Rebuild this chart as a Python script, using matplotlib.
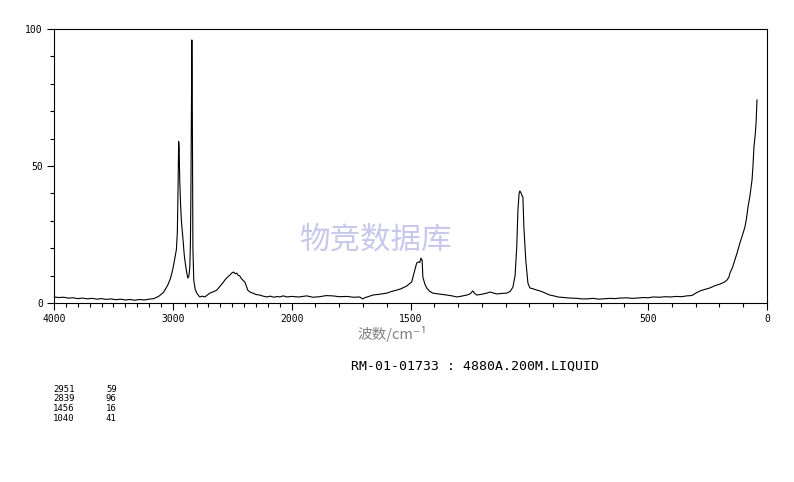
import numpy as np
import matplotlib

matplotlib.use("Agg")
import matplotlib.pyplot as plt
from matplotlib.ticker import FixedLocator, NullFormatter

# Raman spectrum (methanol, liquid)
wavenumber = [
    4000, 3960, 3920, 3880, 3840, 3800, 3760, 3720, 3680, 3640, 3600, 3560, 3520,
    3480, 3440, 3400, 3360, 3320, 3280, 3240, 3200, 3160, 3120, 3100, 3080, 3067,
    3042, 3020, 3008, 2995, 2983, 2970, 2962, 2956, 2951, 2947, 2942, 2935, 2928,
    2920, 2912, 2905, 2899, 2890, 2882, 2874, 2865, 2857, 2852, 2848, 2844, 2840,
    2837, 2834, 2831, 2824, 2812, 2798, 2785, 2773, 2750, 2731, 2710, 2689, 2660,
    2630, 2605, 2580, 2560, 2538, 2520, 2505, 2490, 2475, 2462, 2450, 2437, 2425,
    2412, 2395, 2382, 2370, 2350, 2328, 2300, 2269, 2240, 2210, 2180, 2150, 2120,
    2101, 2070, 2040, 2000,
    1970, 1937, 1910, 1882, 1855, 1827, 1800, 1768, 1740, 1714, 1701, 1690, 1675,
    1659, 1630, 1600, 1580, 1558, 1540, 1516, 1495, 1482, 1474, 1466, 1461, 1456,
    1451, 1448, 1440, 1432, 1420, 1406, 1380, 1347, 1325, 1305, 1285, 1263, 1248,
    1238, 1230, 1221, 1200, 1179, 1166, 1150, 1137, 1115, 1095, 1080, 1069, 1060,
    1053, 1048, 1043, 1040, 1035, 1030, 1027, 1023, 1015, 1006, 998, 985, 968,
    955, 943, 930, 914, 897, 880, 855, 829, 800, 780, 758, 730, 710, 691, 660,
    640, 619, 590, 570, 547, 520, 500, 480, 450, 430, 408, 380, 360, 337, 320,
    312, 300, 282, 260, 240, 220, 198, 180, 168, 160, 156, 145, 135, 125, 114,
    103, 93, 86, 80, 72, 63, 59, 55, 50, 46, 44, 42,
]
intensity = [
    2.2, 2.0, 2.1, 1.8, 1.9, 1.6, 1.8, 1.5, 1.7, 1.4, 1.6, 1.3, 1.5,
    1.2, 1.4, 1.1, 1.3, 1.0, 1.3, 1.1, 1.4, 1.6, 2.4, 3.1, 3.8, 4.7,
    6.6, 9.0, 10.9, 13.5, 16.4, 19.5, 26.0, 42.0, 59.0, 56.5, 45.0, 36.0, 30.0,
    26.0, 22.0, 18.0, 15.7, 13.0, 10.9, 9.1, 9.8, 13.1, 22.0, 40.0, 68.0, 96.0,
    80.0, 45.0, 20.0, 8.4, 5.0, 3.6, 2.8, 2.2, 2.5, 2.2, 2.9, 3.6, 4.1,
    4.7, 6.0, 7.3, 8.5, 9.5, 10.2, 10.9, 11.3, 10.7, 10.9, 10.1, 9.9, 9.0,
    8.4, 7.7, 6.3, 4.7, 4.0, 3.6, 3.1, 2.9, 2.5, 2.2, 2.5, 2.1, 2.4,
    2.2, 2.6, 2.2, 2.4,
    2.2, 2.6, 2.1, 2.3, 2.7, 2.6, 2.3, 2.4, 2.1, 2.2, 1.5, 2.0, 2.4,
    2.9, 3.2, 3.6, 4.2, 4.7, 5.2, 6.2, 7.7, 12.0, 14.6, 15.0, 14.8, 16.4,
    15.5, 9.5, 7.0, 5.5, 4.3, 3.6, 3.3, 2.9, 2.6, 2.2, 2.5, 2.9, 3.4,
    4.4, 3.5, 2.9, 3.2, 3.6, 4.0, 3.6, 3.3, 3.5, 3.6, 4.3, 5.8, 10.0,
    20.4, 33.9, 40.0, 40.9, 40.2, 39.0, 38.7, 27.7, 15.7, 7.3, 5.5, 5.2, 4.7,
    4.4, 4.0, 3.5, 2.9, 2.6, 2.2, 2.0, 1.8, 1.7, 1.5, 1.5, 1.7, 1.4, 1.5, 1.7,
    1.6, 1.8, 1.9, 1.7, 1.8, 2.0, 1.9, 2.2, 2.1, 2.3, 2.2, 2.4, 2.3, 2.6, 2.7,
    2.9, 3.6, 4.4, 5.0, 5.5, 6.3, 6.9, 7.6, 8.4, 9.5, 10.9, 13.0, 15.7, 18.5, 21.9,
    24.8, 27.7, 31.0, 35.0, 39.0, 44.9, 50.0, 56.9, 61.0, 65.7, 70.0, 74.1,
]

x_major = [4000, 3000, 2000, 1500, 500, 0]
y_major = [0, 50, 100]
peak_pos = ["2951", "2839", "1456", "1040"]
peak_int = ["59", "96", "16", "41"]
sample_info = "RM-01-01733 : 4880A.200M.LIQUID"


# x axis is compressed 2:1 above 2000 cm-1
def fwd(w):
    w = np.asarray(w, dtype=float)
    return np.where(w > 2000, w + 2000, 2 * w)


def inv(p):
    p = np.asarray(p, dtype=float)
    return np.where(p > 4000, p - 2000, p / 2)


fig = plt.figure(figsize=(7.94, 4.82), dpi=100)
ax = fig.add_axes([54 / 794, 1 - 303 / 482, 713 / 794, 274 / 482])
ax.set_xscale("function", functions=(fwd, inv))
ax.plot(wavenumber, intensity, color="black", lw=0.8)
ax.set_xlim(4000, 0)
ax.set_ylim(0, 100)

ax.xaxis.set_major_locator(FixedLocator(x_major))
ax.xaxis.set_minor_locator(FixedLocator(list(range(0, 4001, 100))))
ax.xaxis.set_minor_formatter(NullFormatter())
ax.yaxis.set_major_locator(FixedLocator(y_major))
ax.yaxis.set_minor_locator(FixedLocator(list(range(0, 101, 10))))
ax.set_xticklabels([str(v) for v in x_major])
ax.set_yticklabels([str(v) for v in y_major])
ax.tick_params(which="major", length=5, width=0.8, labelsize=7, pad=3)
ax.tick_params(which="minor", length=3, width=0.8)
for lab in ax.get_xticklabels() + ax.get_yticklabels():
    lab.set_fontfamily("DejaVu Sans Mono")
for s in ax.spines.values():
    s.set_linewidth(0.8)

cjk = ["Noto Sans CJK SC", "DejaVu Sans"]
fig.text(375 / 794, 1 - 240 / 482, "物竞数据库", family=cjk, fontsize=22,
         color="#c8c8ec", ha="center", va="center")
fig.text(392 / 794, 1 - 334 / 482, "波数/cm⁻¹", family=cjk, fontsize=10.5,
         color="#808080", ha="center", va="center")
fig.text(475 / 794, 1 - 366 / 482, sample_info, family="DejaVu Sans Mono",
         fontsize=9.5, ha="center", va="center")

for i, (p, v) in enumerate(zip(peak_pos, peak_int)):
    y = 1 - (389 + i * 9.7) / 482
    fig.text(53 / 794, y, p, family="DejaVu Sans Mono", fontsize=6.5, va="center")
    fig.text(106 / 794, y, v, family="DejaVu Sans Mono", fontsize=6.5, va="center")

fig.savefig("out.png", dpi=100)
